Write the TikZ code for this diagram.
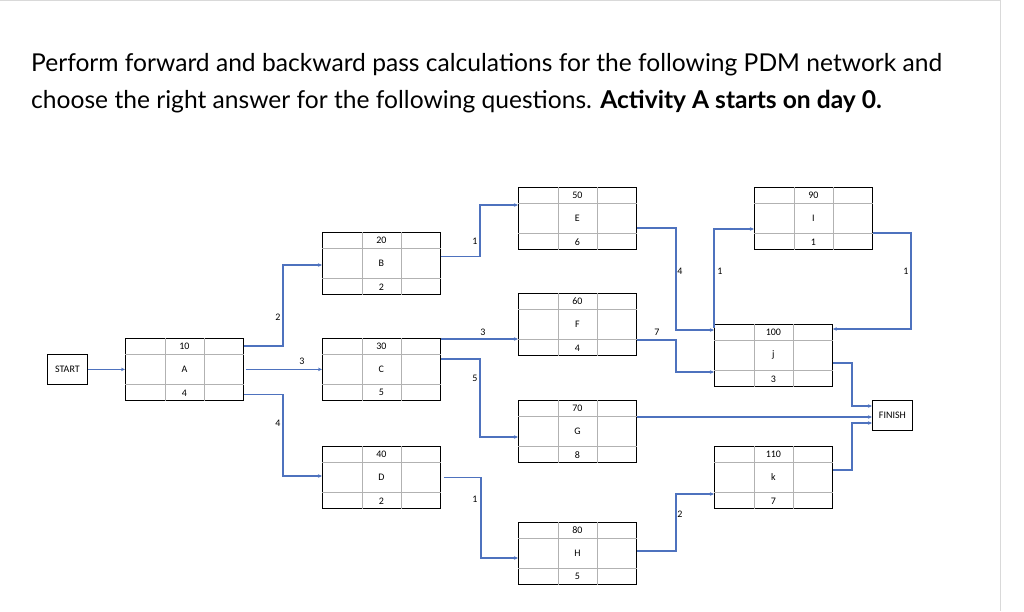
\documentclass[tikz,border=0pt]{standalone}
\usepackage{fontspec}
\setmainfont{Lato}
\newfontfamily\boxfont{Carlito}
\usetikzlibrary{arrows.meta,calc}
\begin{document}
\begin{tikzpicture}[x=1pt,y=-1pt,
  act/.style={draw=black,line width=0.8pt,minimum width=118pt,minimum height=62pt,anchor=north west,inner sep=0pt},
  term/.style={draw=black,line width=0.8pt,anchor=north west,inner sep=0pt,font=\boxfont\fontsize{10}{12}\selectfont},
  cell/.style={font=\boxfont\fontsize{10}{12}\selectfont,inner sep=0pt},
  link/.style={draw={rgb,255:red,78;green,114;blue,190},line width=1.3pt,-{Stealth[length=4pt,width=3.5pt]}},
  lbl/.style={font=\boxfont\fontsize{10}{12}\selectfont,inner sep=0pt}]
\useasboundingbox (0,0) rectangle (1024,611);
\draw[gray!30,line width=1pt] (0,0.5) -- (1000,0.5) (1000,0) -- (1000,611);
\node[anchor=north west,inner sep=0pt,align=left,font=\fontsize{24.6}{37}\selectfont] (title) at (31,53)
 {Perform forward and backward pass calculations for the following PDM network and\\
  choose the right answer for the following questions. \textbf{Activity A starts on day 0.}};
\newcommand\actbox[6]{%
  \node[act] (#1) at (#2,#3) {};
  \draw[gray!60,line width=0.7pt] ($(#1.north west)+(0,16)$) -- ($(#1.north east)+(0,16)$)
    ($(#1.north west)+(0,46)$) -- ($(#1.north east)+(0,46)$)
    ($(#1.north west)+(40,0)$) -- ($(#1.south west)+(40,0)$)
    ($(#1.north west)+(79,0)$) -- ($(#1.south west)+(79,0)$);
  \node[cell] (#1t) at ($(#1.north)+(0,8)$) {#4};
  \node[cell] (#1m) at (#1.center) {#5};
  \node[cell] (#1b) at ($(#1.south)+(0,-8)$) {#6};}
\actbox{A}{125}{338}{10}{A}{4}
\actbox{B}{322}{232}{20}{B}{2}
\actbox{C}{322}{338}{30}{C}{5}
\actbox{D}{322}{446}{40}{D}{2}
\actbox{E}{518}{187}{50}{E}{6}
\actbox{F}{518}{293}{60}{F}{4}
\actbox{G}{518}{400}{70}{G}{8}
\actbox{H}{518}{522}{80}{H}{5}
\actbox{I}{754}{187}{90}{I}{1}
\actbox{J}{714}{324}{100}{j}{3}
\actbox{K}{714}{446}{110}{k}{7}
\node[term,minimum width=40pt,minimum height=30pt] (S) at (47,354) {START};
\node[term,minimum width=40pt,minimum height=30pt] (FIN) at (872,400) {FINISH};
% connectors
\draw[link] (S.east) -- (A.west);
\draw[link] ($(A.north east)+(0,8)$) -| (283,265) -- (B.west |- 0,265);
\draw[link] ($(A.east)+(2,0)$) -- (C.west);
\draw[link] ($(A.south east)+(0,-6)$) -| (283,476) -- (D.west |- 0,476);
\draw[link] ($(B.east)+(0,-7)$) -| (480,205) -- (E.west |- 0,205);
\draw[link] ($(C.north east)+(0,1)$) -- (F.west |- 0,339);
\draw[link] ($(C.north east)+(0,21)$) -| (480,437) -- (G.west |- 0,437);
\draw[link] ($(D.east)+(3,0)$) -| (481,558) -- (H.west |- 0,558);
\draw[link] ($(E.north east)+(0,41)$) -| (676,330) -- (J.west |- 0,330);
\draw[link] ($(F.north east)+(0,47)$) -| (676,372) -- (J.west |- 0,372);
\draw[link] ($(J.north west)+(0,4)$) -- (714,229) -- (I.west |- 0,229);
\draw[link] ($(I.north east)+(0,46)$) -| (911,329) -- (J.east |- 0,329);
\draw[link] ($(J.north east)+(0,39)$) -| (852,406) -- (FIN.west |- 0,406);
\draw[link] (G.east |- 0,417) -- (FIN.west |- 0,417);
\draw[link] ($(K.north east)+(0,24)$) -| (852,423) -- (FIN.west |- 0,423);
\draw[link] (H.east |- 0,551) -| (676,494) -- (K.west |- 0,494);
% labels
\node[lbl] (l1) at (278,317) {2};
\node[lbl] (l2) at (302,361) {3};
\node[lbl] (l3) at (278,423) {4};
\node[lbl] (l4) at (475,241) {1};
\node[lbl] (l5) at (483,332) {3};
\node[lbl] (l6) at (475,378) {5};
\node[lbl] (l7) at (475,499) {1};
\node[lbl] (l8) at (680,271) {4};
\node[lbl] (l9) at (657,332) {7};
\node[lbl] (l10) at (720,271) {1};
\node[lbl] (l11) at (906,271) {1};
\node[lbl] (l12) at (680,514) {2};
\end{tikzpicture}
\end{document}
